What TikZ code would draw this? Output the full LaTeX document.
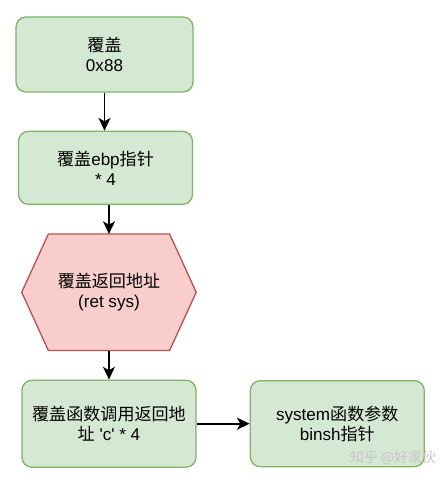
\documentclass[tikz,border=0pt]{standalone}
\usepackage{fontspec}
\setmainfont{Liberation Sans}
\newfontfamily\cjk{Noto Sans CJK SC}
\newcommand{\zh}[1]{{\cjk #1}}
\usetikzlibrary{positioning,backgrounds,arrows.meta}
\definecolor{boxfill}{HTML}{D5E8D4}
\definecolor{boxline}{HTML}{82B366}
\definecolor{hexfill}{HTML}{F8CECC}
\definecolor{hexline}{HTML}{B85450}

\begin{document}
\begin{tikzpicture}[>={Stealth[length=9.5pt,width=9pt,inset=2.5pt]}, x=0.75pt, y=-0.75pt, node distance=21.75pt]
    \tikzstyle{box}=[rectangle,draw=boxline,fill=boxfill,line width=1pt,rounded corners=7.5pt,align=center,minimum width=130.5pt,minimum height=54.75pt,font=\fontsize{12.8}{15}\selectfont]
    \tikzstyle{hexbox}=[rectangle,align=center,minimum width=130.5pt,minimum height=87pt,font=\fontsize{12.8}{15}\selectfont]
    \useasboundingbox (0,0) rectangle (446,477);
    \node[box,minimum width=132.75pt,minimum height=56.25pt] (cover) at (104.5,54.5) {\zh{覆盖}\\0x88};
    \node[box,below=28.5pt of cover,xshift=0.75pt] (ebp) {\zh{覆盖}ebp\zh{指针}\\* 4};
    \node[hexbox,below=of ebp,xshift=2.6pt] (ret) {\zh{覆盖返回地址}\\(ret sys)};
    \begin{pgfonlayer}{background}
      \draw[draw=hexline,fill=hexfill,line width=1pt] ([xshift=20pt]ret.north west) -- ([xshift=-20pt]ret.north east) -- (ret.east)
        -- ([xshift=-20pt]ret.south east) -- ([xshift=20pt]ret.south west) -- (ret.west) -- cycle;
    \end{pgfonlayer}
    \node[box,below=of ret,minimum height=65.25pt] (call) {\zh{覆盖函数调用返回地}\\\zh{址} \textquotesingle c\textquotesingle{} * 4};
    \node[box,right=39.75pt of call,minimum height=64.5pt] (arg) {system\zh{函数参数}\\binsh\zh{指针}};
    \node[text=gray!45,font=\fontsize{10.5}{12}\selectfont] (mark) at (393,458) {\zh{知乎 @好家伙}};
    \draw[->,line width=1.3pt] (cover) -- (cover |- ebp.north);
    \draw[->,line width=1.3pt] (ret.north |- ebp.south) -- (ret.north);
    \draw[->,line width=1.3pt] (ret) -- (call);
    \draw[->,line width=1.3pt] (call.east) -- (call.east -| arg.west);
  \end{tikzpicture}
\end{document}
